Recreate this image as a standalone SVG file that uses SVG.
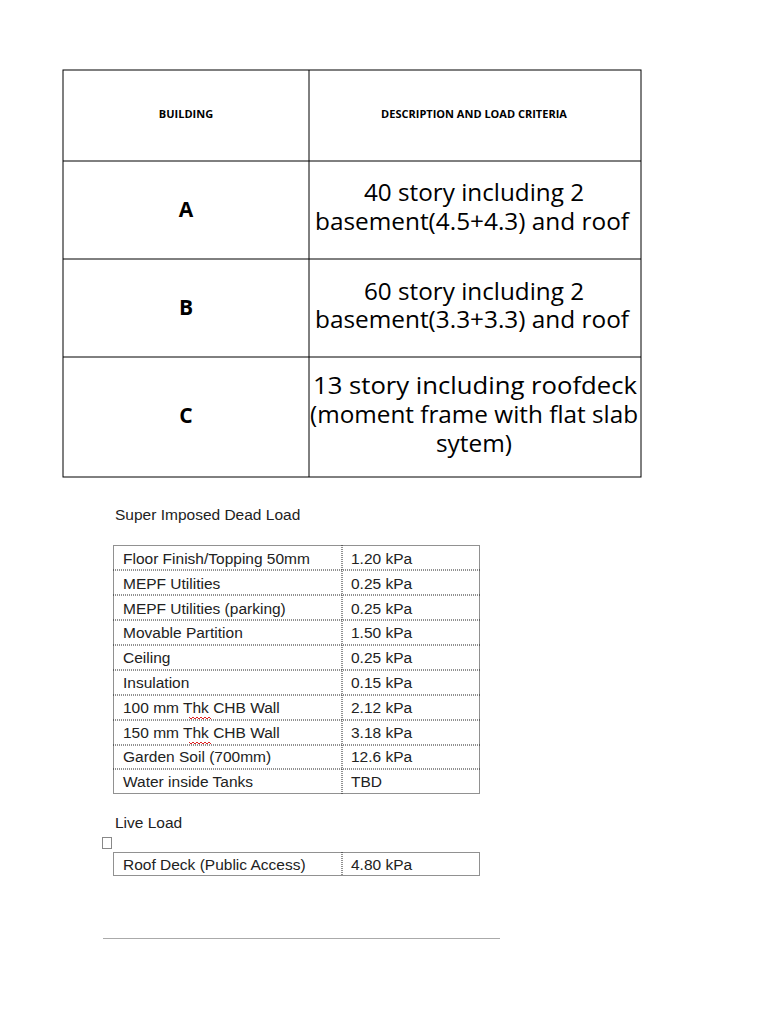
<svg xmlns="http://www.w3.org/2000/svg" width="768" height="1024" viewBox="0 0 768 1024">
<style>
.b{fill:none;stroke:#000;stroke-width:1}
.d{fill:none;stroke:#222;stroke-width:1;stroke-dasharray:1,1}
.h{font-family:"Open Sans","Liberation Sans",sans-serif;font-size:11px;font-weight:bold;fill:#000;text-anchor:middle}
.l{font-family:"Open Sans","Liberation Sans",sans-serif;font-size:21px;font-weight:bold;fill:#000;text-anchor:middle}
.t{font-family:"Open Sans","Liberation Sans",sans-serif;font-size:23px;fill:#000;text-anchor:middle}
.s{font-family:"Liberation Sans",Arial,sans-serif;font-size:15.5px;fill:#222}
</style>
<rect width="768" height="1024" fill="#fff"/>
<g id="table1">
<rect class="b" x="63" y="70" width="578" height="407"/>
<line class="b" x1="309" y1="70" x2="309" y2="477"/>
<line class="b" x1="63" y1="161" x2="641" y2="161"/>
<line class="b" x1="63" y1="259" x2="641" y2="259"/>
<line class="b" x1="63" y1="357" x2="641" y2="357"/>
<text class="h" x="186" y="118">BUILDING</text>
<text class="h" x="474" y="118">DESCRIPTION AND LOAD CRITERIA</text>
<text class="l" x="186" y="217">A</text>
<text class="t" x="474" y="201" textLength="220" lengthAdjust="spacingAndGlyphs">40 story including 2</text>
<text class="t" x="472" y="230" textLength="314" lengthAdjust="spacingAndGlyphs">basement(4.5+4.3) and roof</text>
<text class="l" x="186" y="315">B</text>
<text class="t" x="474" y="300" textLength="220" lengthAdjust="spacingAndGlyphs">60 story including 2</text>
<text class="t" x="472" y="328" textLength="314" lengthAdjust="spacingAndGlyphs">basement(3.3+3.3) and roof</text>
<text class="l" x="186" y="423">C</text>
<text class="t" x="475" y="394" textLength="324" lengthAdjust="spacingAndGlyphs">13 story including  roofdeck</text>
<text class="t" x="474" y="423" textLength="328" lengthAdjust="spacingAndGlyphs">(moment frame with flat slab</text>
<text class="t" x="474" y="452" textLength="76" lengthAdjust="spacingAndGlyphs">sytem)</text>
</g>
<g id="dead">
<text class="s" x="115" y="520">Super Imposed Dead Load</text>
<rect class="d" x="113.5" y="545.5" width="366" height="248"/>
<line class="d" x1="342" y1="545" x2="342" y2="794"/>
<g class="d">
<line x1="113" y1="570" x2="480" y2="570"/><line x1="113" y1="595" x2="480" y2="595"/>
<line x1="113" y1="620" x2="480" y2="620"/><line x1="113" y1="645" x2="480" y2="645"/>
<line x1="113" y1="670" x2="480" y2="670"/><line x1="113" y1="695" x2="480" y2="695"/>
<line x1="113" y1="720" x2="480" y2="720"/><line x1="113" y1="745" x2="480" y2="745"/>
<line x1="113" y1="769" x2="480" y2="769"/>
</g>
<text class="s" x="123" y="564">Floor Finish/Topping 50mm</text><text class="s" x="351" y="564">1.20 kPa</text>
<text class="s" x="123" y="589">MEPF Utilities</text><text class="s" x="351" y="589">0.25 kPa</text>
<text class="s" x="123" y="614">MEPF Utilities (parking)</text><text class="s" x="351" y="614">0.25 kPa</text>
<text class="s" x="123" y="638">Movable Partition</text><text class="s" x="351" y="638">1.50 kPa</text>
<text class="s" x="123" y="663">Ceiling</text><text class="s" x="351" y="663">0.25 kPa</text>
<text class="s" x="123" y="688">Insulation</text><text class="s" x="351" y="688">0.15 kPa</text>
<text class="s" x="123" y="713">100 mm Thk CHB Wall</text><text class="s" x="351" y="713">2.12 kPa</text>
<text class="s" x="123" y="738">150 mm Thk CHB Wall</text><text class="s" x="351" y="738">3.18 kPa</text>
<text class="s" x="123" y="762">Garden Soil (700mm)</text><text class="s" x="351" y="762">12.6 kPa</text>
<text class="s" x="123" y="787">Water inside Tanks</text><text class="s" x="351" y="787">TBD</text>
<path d="M189 717 l2 2 l2 -2 l2 2 l2 -2 l2 2 l2 -2 l2 2 l2 -2 l2 2 l2 -2 l2 2 M189 742 l2 2 l2 -2 l2 2 l2 -2 l2 2 l2 -2 l2 2 l2 -2 l2 2 l2 -2 l2 2" fill="none" stroke="#d22" stroke-width="1"/>
</g>
<g id="live">
<text class="s" x="115" y="828">Live Load</text>
<rect x="102.5" y="837.5" width="9" height="11" fill="#fff" stroke="#888"/>
<rect class="d" x="113.5" y="852.5" width="366" height="23"/>
<line class="d" x1="342" y1="852" x2="342" y2="876"/>
<text class="s" x="123" y="870">Roof Deck (Public Access)</text><text class="s" x="351" y="870">4.80 kPa</text>
</g>
<line x1="103" y1="938.5" x2="500" y2="938.5" stroke="#aaa" stroke-width="1"/>
</svg>
